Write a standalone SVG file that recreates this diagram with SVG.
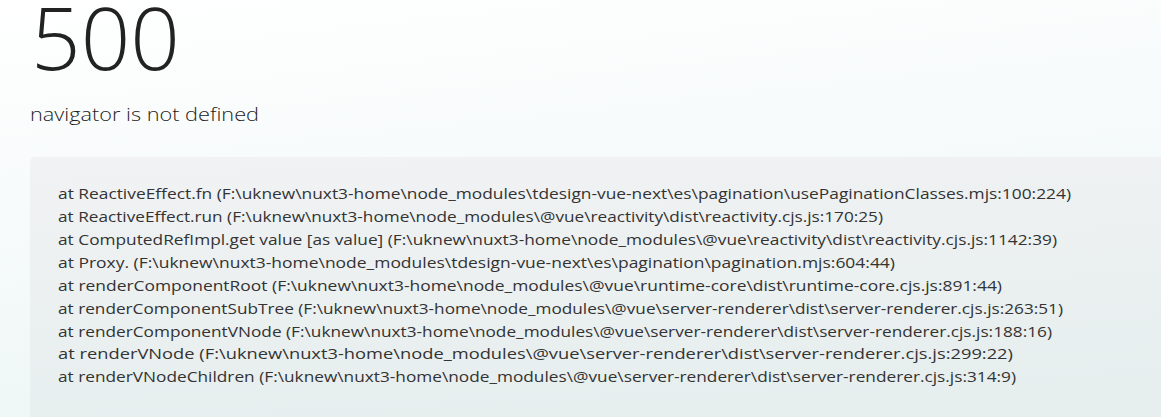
<svg xmlns="http://www.w3.org/2000/svg" width="1161" height="417" viewBox="0 0 1161 417">
<defs>
<linearGradient id="bg" x1="0" y1="0" x2="0.3" y2="1"><stop offset="0" stop-color="#ffffff"/><stop offset="1" stop-color="#eef6f6"/></linearGradient>
<linearGradient id="box" x1="0" y1="0" x2="0.2" y2="1"><stop offset="0" stop-color="#f1f2f3"/><stop offset="1" stop-color="#e6eeee"/></linearGradient>
</defs>
<style>
.t{font-family:"Open Sans","Liberation Sans",Arial,sans-serif;fill:#222;}
.s{font-family:"Open Sans","Liberation Sans",Arial,sans-serif;fill:#333;font-size:15px;}
</style>
<rect width="1161" height="417" fill="url(#bg)"/>
<text class="t" x="31" y="70" font-size="86" font-weight="300" fill="#000" textLength="149" lengthAdjust="spacingAndGlyphs">500</text>
<text class="t" x="30" y="121" font-size="19" font-weight="300" fill="#333" textLength="229" lengthAdjust="spacingAndGlyphs">navigator is not defined</text>
<rect x="30" y="157" width="1150" height="280" rx="5" fill="url(#box)"/>
<g class="s">
<text x="58" y="199" textLength="1013" lengthAdjust="spacingAndGlyphs">at ReactiveEffect.fn (F:\uknew\nuxt3-home\node_modules\tdesign-vue-next\es\pagination\usePaginationClasses.mjs:100:224)</text>
<text x="58" y="222" textLength="825" lengthAdjust="spacingAndGlyphs">at ReactiveEffect.run (F:\uknew\nuxt3-home\node_modules\@vue\reactivity\dist\reactivity.cjs.js:170:25)</text>
<text x="58" y="245" textLength="999" lengthAdjust="spacingAndGlyphs">at ComputedRefImpl.get value [as value] (F:\uknew\nuxt3-home\node_modules\@vue\reactivity\dist\reactivity.cjs.js:1142:39)</text>
<text x="58" y="268" textLength="837" lengthAdjust="spacingAndGlyphs">at Proxy. (F:\uknew\nuxt3-home\node_modules\tdesign-vue-next\es\pagination\pagination.mjs:604:44)</text>
<text x="58" y="291" textLength="944" lengthAdjust="spacingAndGlyphs">at renderComponentRoot (F:\uknew\nuxt3-home\node_modules\@vue\runtime-core\dist\runtime-core.cjs.js:891:44)</text>
<text x="58" y="314" textLength="1005" lengthAdjust="spacingAndGlyphs">at renderComponentSubTree (F:\uknew\nuxt3-home\node_modules\@vue\server-renderer\dist\server-renderer.cjs.js:263:51)</text>
<text x="58" y="337" textLength="994" lengthAdjust="spacingAndGlyphs">at renderComponentVNode (F:\uknew\nuxt3-home\node_modules\@vue\server-renderer\dist\server-renderer.cjs.js:188:16)</text>
<text x="58" y="359" textLength="955" lengthAdjust="spacingAndGlyphs">at renderVNode (F:\uknew\nuxt3-home\node_modules\@vue\server-renderer\dist\server-renderer.cjs.js:299:22)</text>
<text x="58" y="382" textLength="958" lengthAdjust="spacingAndGlyphs">at renderVNodeChildren (F:\uknew\nuxt3-home\node_modules\@vue\server-renderer\dist\server-renderer.cjs.js:314:9)</text>
</g>
</svg>
